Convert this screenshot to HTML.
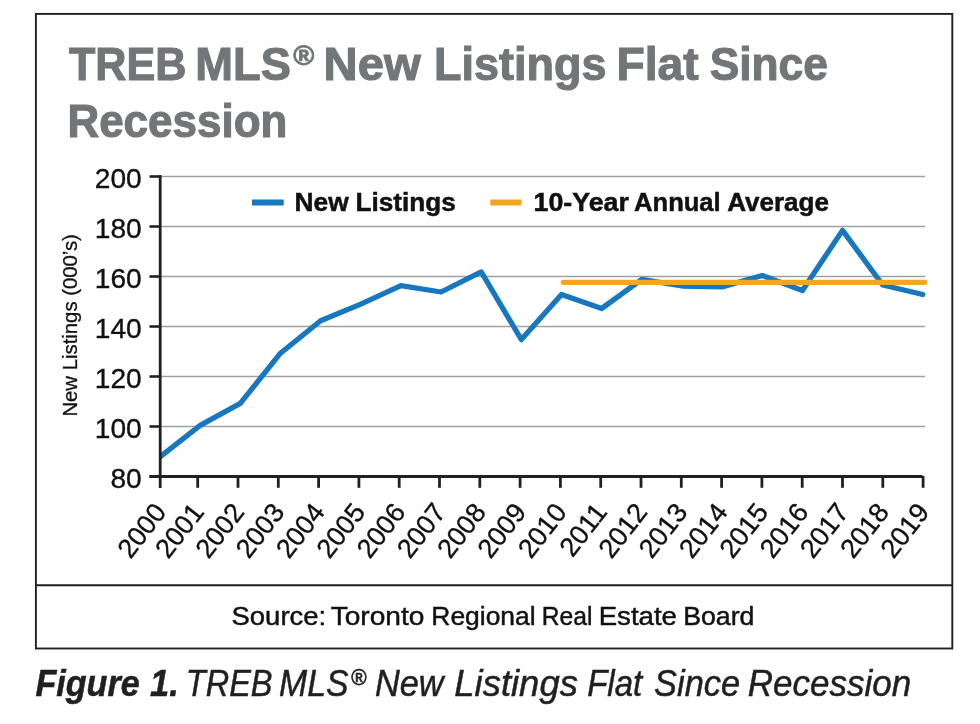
<!DOCTYPE html>
<html><head><meta charset="utf-8"><title>TREB MLS New Listings Flat Since Recession</title>
<style>html,body{margin:0;padding:0;background:#fff;} body{width:980px;height:724px;overflow:hidden;} svg{display:block;}</style>
</head><body>
<svg width="980" height="724" viewBox="0 0 980 724">
<rect x="35.9" y="13.9" width="916.4" height="634.6" fill="none" stroke="#231f20" stroke-width="1.9"/>
<line x1="35" y1="585.2" x2="953" y2="585.2" stroke="#231f20" stroke-width="1.9"/>
<text id="t1" x="69.00" y="79.80" font-family="Liberation Sans, Arial, sans-serif" font-size="46.5" font-weight="bold" fill="#727678" stroke="#727678" stroke-width="1.1" textLength="117.50" lengthAdjust="spacingAndGlyphs">TREB</text>
<text id="t2" x="195.30" y="79.80" font-family="Liberation Sans, Arial, sans-serif" font-size="46.5" font-weight="bold" fill="#727678" stroke="#727678" stroke-width="1.1" textLength="95.70" lengthAdjust="spacingAndGlyphs">MLS</text>
<text id="t3" x="293.20" y="65.00" font-family="Liberation Sans, Arial, sans-serif" font-size="27.5" font-weight="bold" fill="#727678" stroke="#727678" stroke-width="0.9" textLength="21.00" lengthAdjust="spacingAndGlyphs">®</text>
<text id="t4" x="323.60" y="79.80" font-family="Liberation Sans, Arial, sans-serif" font-size="46.5" font-weight="bold" fill="#727678" stroke="#727678" stroke-width="1.1" textLength="97.00" lengthAdjust="spacingAndGlyphs">New</text>
<text id="t5" x="433.90" y="79.80" font-family="Liberation Sans, Arial, sans-serif" font-size="46.5" font-weight="bold" fill="#727678" stroke="#727678" stroke-width="1.1" textLength="172.60" lengthAdjust="spacingAndGlyphs">Listings</text>
<text id="t6" x="616.40" y="79.80" font-family="Liberation Sans, Arial, sans-serif" font-size="46.5" font-weight="bold" fill="#727678" stroke="#727678" stroke-width="1.1" textLength="82.30" lengthAdjust="spacingAndGlyphs">Flat</text>
<text id="t7" x="709.70" y="79.80" font-family="Liberation Sans, Arial, sans-serif" font-size="46.5" font-weight="bold" fill="#727678" stroke="#727678" stroke-width="1.1" textLength="118.20" lengthAdjust="spacingAndGlyphs">Since</text>
<text id="t8" x="67.40" y="136.80" font-family="Liberation Sans, Arial, sans-serif" font-size="46.5" font-weight="bold" fill="#727678" stroke="#727678" stroke-width="1.1" textLength="220.00" lengthAdjust="spacingAndGlyphs">Recession</text>
<text id="l1" x="294.50" y="210.70" font-family="Liberation Sans, Arial, sans-serif" font-size="25.5" font-weight="bold" fill="#111111" stroke="#111111" stroke-width="0.5" textLength="54.10" lengthAdjust="spacingAndGlyphs">New</text>
<text id="l2" x="355.50" y="210.70" font-family="Liberation Sans, Arial, sans-serif" font-size="25.5" font-weight="bold" fill="#111111" stroke="#111111" stroke-width="0.5" textLength="100.30" lengthAdjust="spacingAndGlyphs">Listings</text>
<text id="l3" x="533.50" y="210.70" font-family="Liberation Sans, Arial, sans-serif" font-size="25.5" font-weight="bold" fill="#111111" stroke="#111111" stroke-width="0.5" textLength="95.40" lengthAdjust="spacingAndGlyphs">10-Year</text>
<text id="l4" x="634.10" y="210.70" font-family="Liberation Sans, Arial, sans-serif" font-size="25.5" font-weight="bold" fill="#111111" stroke="#111111" stroke-width="0.5" textLength="86.60" lengthAdjust="spacingAndGlyphs">Annual</text>
<text id="l5" x="727.20" y="210.70" font-family="Liberation Sans, Arial, sans-serif" font-size="25.5" font-weight="bold" fill="#111111" stroke="#111111" stroke-width="0.5" textLength="101.80" lengthAdjust="spacingAndGlyphs">Average</text>
<text id="s1" x="231.50" y="625.40" font-family="Liberation Sans, Arial, sans-serif" font-size="25" fill="#111111" stroke="#111111" stroke-width="0.45" textLength="94.70" lengthAdjust="spacingAndGlyphs">Source:</text>
<text id="s2" x="330.70" y="625.40" font-family="Liberation Sans, Arial, sans-serif" font-size="25" fill="#111111" stroke="#111111" stroke-width="0.45" textLength="93.70" lengthAdjust="spacingAndGlyphs">Toronto</text>
<text id="s3" x="431.30" y="625.40" font-family="Liberation Sans, Arial, sans-serif" font-size="25" fill="#111111" stroke="#111111" stroke-width="0.45" textLength="104.30" lengthAdjust="spacingAndGlyphs">Regional</text>
<text id="s4" x="541.80" y="625.40" font-family="Liberation Sans, Arial, sans-serif" font-size="25" fill="#111111" stroke="#111111" stroke-width="0.45" textLength="50.60" lengthAdjust="spacingAndGlyphs">Real</text>
<text id="s5" x="598.70" y="625.40" font-family="Liberation Sans, Arial, sans-serif" font-size="25" fill="#111111" stroke="#111111" stroke-width="0.45" textLength="78.30" lengthAdjust="spacingAndGlyphs">Estate</text>
<text id="s6" x="683.20" y="625.40" font-family="Liberation Sans, Arial, sans-serif" font-size="25" fill="#111111" stroke="#111111" stroke-width="0.45" textLength="71.30" lengthAdjust="spacingAndGlyphs">Board</text>
<text id="c1" x="35.40" y="695.80" font-family="Liberation Sans, Arial, sans-serif" font-size="36" font-weight="bold" font-style="italic" fill="#231f20" stroke="#231f20" stroke-width="0.5" textLength="104.40" lengthAdjust="spacingAndGlyphs">Figure</text>
<text id="c2" x="150.00" y="695.80" font-family="Liberation Sans, Arial, sans-serif" font-size="36" font-weight="bold" font-style="italic" fill="#231f20" stroke="#231f20" stroke-width="0.5" textLength="28.70" lengthAdjust="spacingAndGlyphs">1.</text>
<text id="c3" x="185.80" y="695.80" font-family="Liberation Sans, Arial, sans-serif" font-size="36" font-style="italic" fill="#231f20" stroke="#231f20" stroke-width="0.5" textLength="86.70" lengthAdjust="spacingAndGlyphs">TREB</text>
<text id="c4" x="279.10" y="695.80" font-family="Liberation Sans, Arial, sans-serif" font-size="36" font-style="italic" fill="#231f20" stroke="#231f20" stroke-width="0.5" textLength="69.40" lengthAdjust="spacingAndGlyphs">MLS</text>
<text id="c5" x="351.00" y="685.00" font-family="Liberation Sans, Arial, sans-serif" font-size="22" font-style="italic" fill="#231f20" stroke="#231f20" stroke-width="0.7" textLength="15.30" lengthAdjust="spacingAndGlyphs">®</text>
<text id="c6" x="374.90" y="695.80" font-family="Liberation Sans, Arial, sans-serif" font-size="36" font-style="italic" fill="#231f20" stroke="#231f20" stroke-width="0.5" textLength="68.60" lengthAdjust="spacingAndGlyphs">New</text>
<text id="c7" x="454.30" y="695.80" font-family="Liberation Sans, Arial, sans-serif" font-size="36" font-style="italic" fill="#231f20" stroke="#231f20" stroke-width="0.5" textLength="123.60" lengthAdjust="spacingAndGlyphs">Listings</text>
<text id="c8" x="587.20" y="695.80" font-family="Liberation Sans, Arial, sans-serif" font-size="36" font-style="italic" fill="#231f20" stroke="#231f20" stroke-width="0.5" textLength="55.00" lengthAdjust="spacingAndGlyphs">Flat</text>
<text id="c9" x="654.10" y="695.80" font-family="Liberation Sans, Arial, sans-serif" font-size="36" font-style="italic" fill="#231f20" stroke="#231f20" stroke-width="0.5" textLength="86.00" lengthAdjust="spacingAndGlyphs">Since</text>
<text id="c10" x="747.80" y="695.80" font-family="Liberation Sans, Arial, sans-serif" font-size="36" font-style="italic" fill="#231f20" stroke="#231f20" stroke-width="0.5" textLength="163.30" lengthAdjust="spacingAndGlyphs">Recession</text>
<line x1="160" y1="176.5" x2="925" y2="176.5" stroke="#a0a1a3" stroke-width="1.4"/>
<line x1="160" y1="226.5" x2="925" y2="226.5" stroke="#a0a1a3" stroke-width="1.4"/>
<line x1="160" y1="276.5" x2="925" y2="276.5" stroke="#a0a1a3" stroke-width="1.4"/>
<line x1="160" y1="326.5" x2="925" y2="326.5" stroke="#a0a1a3" stroke-width="1.4"/>
<line x1="160" y1="376.5" x2="925" y2="376.5" stroke="#a0a1a3" stroke-width="1.4"/>
<line x1="160" y1="426.5" x2="925" y2="426.5" stroke="#a0a1a3" stroke-width="1.4"/>
<defs><clipPath id="pc"><rect x="160" y="150" width="780" height="330"/></clipPath></defs>
<polyline clip-path="url(#pc)" points="160.00,457.0 200.15,425.3 240.30,403.4 280.45,353.2 320.60,320.7 360.75,304.1 400.90,285.7 441.05,292.0 481.20,271.9 521.35,339.6 561.50,294.4 601.65,308.5 641.80,279.4 681.95,286.0 722.10,286.9 762.25,275.5 802.40,290.5 842.55,230.4 882.70,285.0 922.85,294.5" fill="none" stroke="#1777bf" stroke-width="5.3" stroke-linejoin="round" stroke-linecap="round"/>
<line x1="563.3" y1="282.3" x2="924.7" y2="282.3" stroke="#f0a820" stroke-width="5.2" stroke-linecap="round"/>
<text transform="translate(141.7,187.8) scale(1.05,1)" font-family="Liberation Sans, Arial, sans-serif" font-size="26.8" text-anchor="end" fill="#111111" stroke="#111111" stroke-width="0.35">200</text>
<line x1="149.5" y1="176.5" x2="160" y2="176.5" stroke="#231f20" stroke-width="2.6"/>
<text transform="translate(141.7,237.8) scale(1.05,1)" font-family="Liberation Sans, Arial, sans-serif" font-size="26.8" text-anchor="end" fill="#111111" stroke="#111111" stroke-width="0.35">180</text>
<line x1="149.5" y1="226.5" x2="160" y2="226.5" stroke="#231f20" stroke-width="2.6"/>
<text transform="translate(141.7,287.8) scale(1.05,1)" font-family="Liberation Sans, Arial, sans-serif" font-size="26.8" text-anchor="end" fill="#111111" stroke="#111111" stroke-width="0.35">160</text>
<line x1="149.5" y1="276.5" x2="160" y2="276.5" stroke="#231f20" stroke-width="2.6"/>
<text transform="translate(141.7,337.8) scale(1.05,1)" font-family="Liberation Sans, Arial, sans-serif" font-size="26.8" text-anchor="end" fill="#111111" stroke="#111111" stroke-width="0.35">140</text>
<line x1="149.5" y1="326.5" x2="160" y2="326.5" stroke="#231f20" stroke-width="2.6"/>
<text transform="translate(141.7,387.8) scale(1.05,1)" font-family="Liberation Sans, Arial, sans-serif" font-size="26.8" text-anchor="end" fill="#111111" stroke="#111111" stroke-width="0.35">120</text>
<line x1="149.5" y1="376.5" x2="160" y2="376.5" stroke="#231f20" stroke-width="2.6"/>
<text transform="translate(141.7,437.8) scale(1.05,1)" font-family="Liberation Sans, Arial, sans-serif" font-size="26.8" text-anchor="end" fill="#111111" stroke="#111111" stroke-width="0.35">100</text>
<line x1="149.5" y1="426.5" x2="160" y2="426.5" stroke="#231f20" stroke-width="2.6"/>
<text transform="translate(141.7,487.8) scale(1.05,1)" font-family="Liberation Sans, Arial, sans-serif" font-size="26.8" text-anchor="end" fill="#111111" stroke="#111111" stroke-width="0.35">80</text>
<line x1="149.5" y1="476.5" x2="160" y2="476.5" stroke="#231f20" stroke-width="2.6"/>
<line x1="160.2" y1="175" x2="160.2" y2="488" stroke="#231f20" stroke-width="2.8"/>
<line x1="149.5" y1="476.5" x2="922.5" y2="476.5" stroke="#231f20" stroke-width="3"/>
<line x1="197.7" y1="476" x2="197.7" y2="487.8" stroke="#231f20" stroke-width="2.8"/>
<line x1="238.0" y1="476" x2="238.0" y2="487.8" stroke="#231f20" stroke-width="2.8"/>
<line x1="278.3" y1="476" x2="278.3" y2="487.8" stroke="#231f20" stroke-width="2.8"/>
<line x1="318.6" y1="476" x2="318.6" y2="487.8" stroke="#231f20" stroke-width="2.8"/>
<line x1="358.9" y1="476" x2="358.9" y2="487.8" stroke="#231f20" stroke-width="2.8"/>
<line x1="399.2" y1="476" x2="399.2" y2="487.8" stroke="#231f20" stroke-width="2.8"/>
<line x1="439.5" y1="476" x2="439.5" y2="487.8" stroke="#231f20" stroke-width="2.8"/>
<line x1="479.8" y1="476" x2="479.8" y2="487.8" stroke="#231f20" stroke-width="2.8"/>
<line x1="520.1" y1="476" x2="520.1" y2="487.8" stroke="#231f20" stroke-width="2.8"/>
<line x1="560.4" y1="476" x2="560.4" y2="487.8" stroke="#231f20" stroke-width="2.8"/>
<line x1="600.7" y1="476" x2="600.7" y2="487.8" stroke="#231f20" stroke-width="2.8"/>
<line x1="641.0" y1="476" x2="641.0" y2="487.8" stroke="#231f20" stroke-width="2.8"/>
<line x1="681.3" y1="476" x2="681.3" y2="487.8" stroke="#231f20" stroke-width="2.8"/>
<line x1="721.6" y1="476" x2="721.6" y2="487.8" stroke="#231f20" stroke-width="2.8"/>
<line x1="761.9" y1="476" x2="761.9" y2="487.8" stroke="#231f20" stroke-width="2.8"/>
<line x1="802.2" y1="476" x2="802.2" y2="487.8" stroke="#231f20" stroke-width="2.8"/>
<line x1="842.5" y1="476" x2="842.5" y2="487.8" stroke="#231f20" stroke-width="2.8"/>
<line x1="882.8" y1="476" x2="882.8" y2="487.8" stroke="#231f20" stroke-width="2.8"/>
<line x1="923.1" y1="476" x2="923.1" y2="487.8" stroke="#231f20" stroke-width="2.8"/>
<text transform="translate(167.5,512.5) rotate(-52)" font-family="Liberation Sans, Arial, sans-serif" font-size="27" text-anchor="end" fill="#111111" stroke="#111111" stroke-width="0.35">2000</text>
<text transform="translate(205.2,512.5) rotate(-52)" font-family="Liberation Sans, Arial, sans-serif" font-size="27" text-anchor="end" fill="#111111" stroke="#111111" stroke-width="0.35">2001</text>
<text transform="translate(245.5,512.5) rotate(-52)" font-family="Liberation Sans, Arial, sans-serif" font-size="27" text-anchor="end" fill="#111111" stroke="#111111" stroke-width="0.35">2002</text>
<text transform="translate(285.8,512.5) rotate(-52)" font-family="Liberation Sans, Arial, sans-serif" font-size="27" text-anchor="end" fill="#111111" stroke="#111111" stroke-width="0.35">2003</text>
<text transform="translate(326.1,512.5) rotate(-52)" font-family="Liberation Sans, Arial, sans-serif" font-size="27" text-anchor="end" fill="#111111" stroke="#111111" stroke-width="0.35">2004</text>
<text transform="translate(366.4,512.5) rotate(-52)" font-family="Liberation Sans, Arial, sans-serif" font-size="27" text-anchor="end" fill="#111111" stroke="#111111" stroke-width="0.35">2005</text>
<text transform="translate(406.7,512.5) rotate(-52)" font-family="Liberation Sans, Arial, sans-serif" font-size="27" text-anchor="end" fill="#111111" stroke="#111111" stroke-width="0.35">2006</text>
<text transform="translate(447.0,512.5) rotate(-52)" font-family="Liberation Sans, Arial, sans-serif" font-size="27" text-anchor="end" fill="#111111" stroke="#111111" stroke-width="0.35">2007</text>
<text transform="translate(487.3,512.5) rotate(-52)" font-family="Liberation Sans, Arial, sans-serif" font-size="27" text-anchor="end" fill="#111111" stroke="#111111" stroke-width="0.35">2008</text>
<text transform="translate(527.6,512.5) rotate(-52)" font-family="Liberation Sans, Arial, sans-serif" font-size="27" text-anchor="end" fill="#111111" stroke="#111111" stroke-width="0.35">2009</text>
<text transform="translate(567.9,512.5) rotate(-52)" font-family="Liberation Sans, Arial, sans-serif" font-size="27" text-anchor="end" fill="#111111" stroke="#111111" stroke-width="0.35">2010</text>
<text transform="translate(608.2,512.5) rotate(-52)" font-family="Liberation Sans, Arial, sans-serif" font-size="27" text-anchor="end" fill="#111111" stroke="#111111" stroke-width="0.35">2011</text>
<text transform="translate(648.5,512.5) rotate(-52)" font-family="Liberation Sans, Arial, sans-serif" font-size="27" text-anchor="end" fill="#111111" stroke="#111111" stroke-width="0.35">2012</text>
<text transform="translate(688.8,512.5) rotate(-52)" font-family="Liberation Sans, Arial, sans-serif" font-size="27" text-anchor="end" fill="#111111" stroke="#111111" stroke-width="0.35">2013</text>
<text transform="translate(729.1,512.5) rotate(-52)" font-family="Liberation Sans, Arial, sans-serif" font-size="27" text-anchor="end" fill="#111111" stroke="#111111" stroke-width="0.35">2014</text>
<text transform="translate(769.4,512.5) rotate(-52)" font-family="Liberation Sans, Arial, sans-serif" font-size="27" text-anchor="end" fill="#111111" stroke="#111111" stroke-width="0.35">2015</text>
<text transform="translate(809.7,512.5) rotate(-52)" font-family="Liberation Sans, Arial, sans-serif" font-size="27" text-anchor="end" fill="#111111" stroke="#111111" stroke-width="0.35">2016</text>
<text transform="translate(850.0,512.5) rotate(-52)" font-family="Liberation Sans, Arial, sans-serif" font-size="27" text-anchor="end" fill="#111111" stroke="#111111" stroke-width="0.35">2017</text>
<text transform="translate(890.3,512.5) rotate(-52)" font-family="Liberation Sans, Arial, sans-serif" font-size="27" text-anchor="end" fill="#111111" stroke="#111111" stroke-width="0.35">2018</text>
<text transform="translate(930.6,512.5) rotate(-52)" font-family="Liberation Sans, Arial, sans-serif" font-size="27" text-anchor="end" fill="#111111" stroke="#111111" stroke-width="0.35">2019</text>
<text id="yt" transform="translate(77.3,416.6) rotate(-90)" font-family="Liberation Sans, Arial, sans-serif" font-size="20" fill="#111111" stroke="#111111" stroke-width="0.3" textLength="182.5" lengthAdjust="spacingAndGlyphs">New Listings (000’s)</text>
<line x1="252" y1="202.5" x2="283.7" y2="202.5" stroke="#1777bf" stroke-width="6"/>
<line x1="490.3" y1="202.5" x2="521.5" y2="202.5" stroke="#f0a820" stroke-width="6"/>
</svg>
</body></html>
